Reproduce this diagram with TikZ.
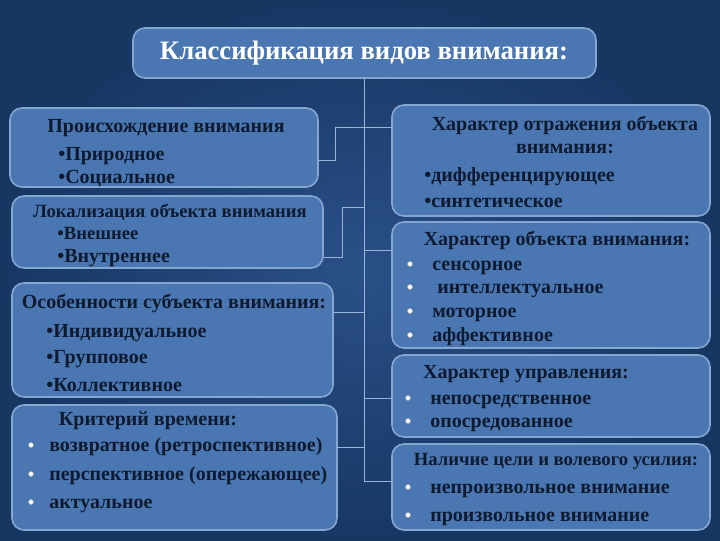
\documentclass[tikz,border=0pt]{standalone}
\usepackage{fontspec}
\setmainfont{Liberation Serif}
\usetikzlibrary{positioning}
\definecolor{bgblue}{HTML}{2A5088}
\definecolor{bgdark}{HTML}{173763}
\definecolor{boxblue}{HTML}{4A77B1}
\definecolor{boxline}{HTML}{86A6D2}
\definecolor{inkblue}{HTML}{0E1A30}
\definecolor{wire}{HTML}{9AB4DA}
\tikzset{
  panel/.style={rounded corners=9pt, fill=boxblue, draw=boxline, line width=1.2pt},
  head/.style={font=\bfseries\fontsize{15}{17}\selectfont, text=inkblue},
  item/.style={font=\bfseries\fontsize{15}{17}\selectfont, text=inkblue, anchor=base west, inner sep=0pt, yshift=-5pt},
  dot/.style={circle, fill=white, draw=gray!60, inner sep=1.3pt},
  link/.style={draw=wire, line width=0.6pt}
}
\begin{document}
\begin{tikzpicture}[x=0.75pt,y=-0.75pt]
  \shade[inner color=bgblue, outer color=bgdark] (0,0) rectangle (720,540);
  \useasboundingbox (0,0) rectangle (720,540);

  % boxes
  \draw[panel] (133,28) rectangle (596,78);
  \draw[panel] (10,108) rectangle (318,187);
  \draw[panel] (12,196) rectangle (323,268);
  \draw[panel] (12,283) rectangle (333,397);
  \draw[panel] (12,405) rectangle (337,530);
  \draw[panel] (392,105) rectangle (710,216);
  \draw[panel] (392,222) rectangle (710,348);
  \draw[panel] (392,355) rectangle (710,437);
  \draw[panel] (392,444) rectangle (710,530);

  % connectors
  \coordinate (top) at (364,78);
  \coordinate (bot) at (364,481);
  \coordinate (l1a) at (364,127); \coordinate (l1b) at (335,127);
  \coordinate (l1c) at (335,160); \coordinate (l1d) at (318,160);
  \coordinate (l2a) at (364,207); \coordinate (l2b) at (342,207);
  \coordinate (l2c) at (342,257); \coordinate (l2d) at (323,257);
  \coordinate (l3a) at (364,312); \coordinate (l3b) at (333,312);
  \coordinate (l4a) at (364,447); \coordinate (l4b) at (337,447);
  \coordinate (r1a) at (364,127); \coordinate (r1b) at (392,127);
  \coordinate (r2a) at (364,250); \coordinate (r2b) at (392,250);
  \coordinate (r3a) at (364,398); \coordinate (r3b) at (392,398);
  \coordinate (r4b) at (392,481);
  \draw[link] (top) -- (bot) -- (r4b);
  \draw[link] (l1a) -- (l1b) -- (l1c) -- (l1d);
  \draw[link] (l2a) -- (l2b) -- (l2c) -- (l2d);
  \draw[link] (l3a) -- (l3b);
  \draw[link] (l4a) -- (l4b);
  \draw[link] (r1a) -- (r1b);
  \draw[link] (r2a) -- (r2b);
  \draw[link] (r3a) -- (r3b);

  % title
  \node[font=\bfseries\fontsize{20}{23}\selectfont, text=white] (title) at (364,53) {Классификация видов внимания:};

  % left column
  \node[head] (origin) at (166,128) {Происхождение внимания};
  \node[item] (nat) at (58,154) {•Природное};
  \node[item] (soc) at (58,177) {•Социальное};

  \node[head, font=\bfseries\fontsize{14}{16}\selectfont] (local) at (170,212) {Локализация объекта внимания};
  \node[item, font=\bfseries\fontsize{14}{16}\selectfont] (ext) at (57,233) {•Внешнее};
  \node[item] (int) at (57,256) {•Внутреннее};

  \node[head] (subj) at (174,303) {Особенности субъекта внимания:};
  \node[item] (ind) at (46,331) {•Индивидуальное};
  \node[item] (grp) at (46,357) {•Групповое};
  \node[item] (col) at (46,385) {•Коллективное};

  \node[head] (time) at (148,421) {Критерий времени:};
  \foreach \y/\txt [count=\i] in {445/возвратное (ретроспективное), 474/перспективное (опережающее), 502/актуальное}{
    \node[dot] (td\i) at (31,\y) {};
    \node[item] (ti\i) at (49,\y) {\txt};
  }

  % right column
  \node[head, align=center] (refl) at (565,135) {Характер отражения объекта\\внимания:};
  \node[item] (diff) at (424,175) {•дифференцирующее};
  \node[item] (synt) at (424,201) {•синтетическое};

  \node[head] (objc) at (557,240) {Характер объекта внимания:};
  \foreach \y/\x/\txt [count=\i] in {264/432/сенсорное, 287/437/интеллектуальное, 311/432/моторное, 335/432/аффективное}{
    \node[dot] (od\i) at (410,\y) {};
    \node[item] (oi\i) at (\x,\y) {\txt};
  }

  \node[head] (ctrl) at (526,374) {Характер управления:};
  \foreach \y/\txt [count=\i] in {398/непосредственное, 421/опосредованное}{
    \node[dot] (cd\i) at (408,\y) {};
    \node[item] (ci\i) at (430,\y) {\txt};
  }

  \node[head, font=\bfseries\fontsize{14}{16}\selectfont] (goal) at (556,461) {Наличие цели и волевого усилия:};
  \foreach \y/\txt [count=\i] in {487/непроизвольное внимание, 515/произвольное внимание}{
    \node[dot] (gd\i) at (408,\y) {};
    \node[item] (gi\i) at (430,\y) {\txt};
  }
\end{tikzpicture}
\end{document}
